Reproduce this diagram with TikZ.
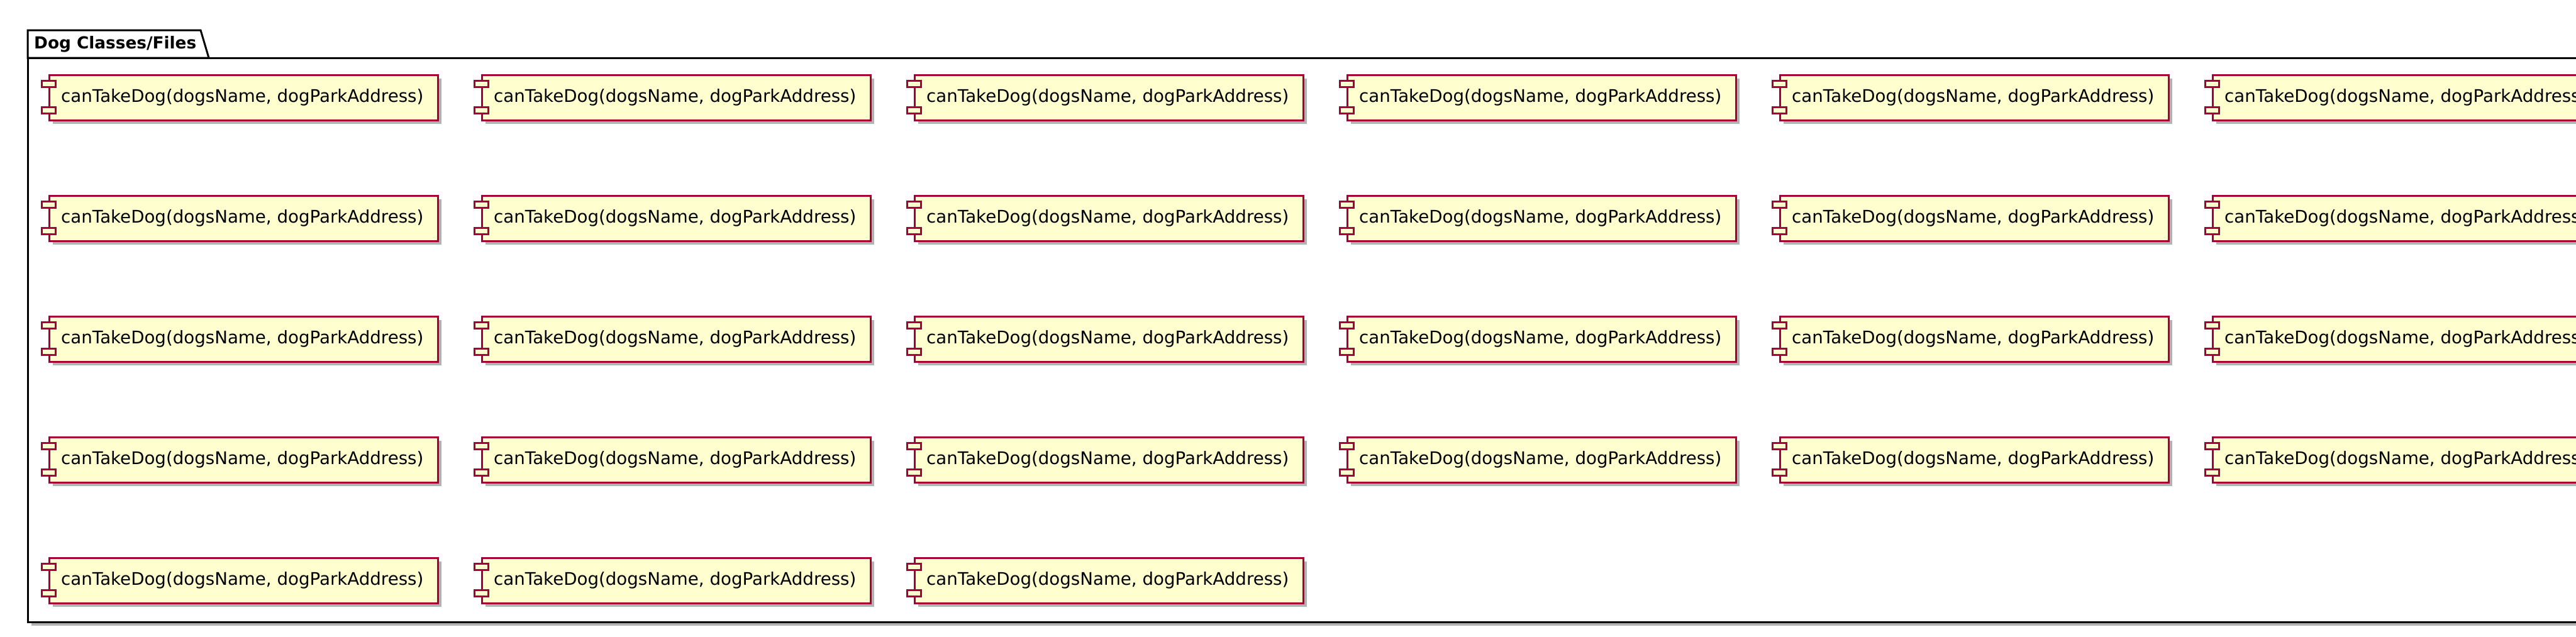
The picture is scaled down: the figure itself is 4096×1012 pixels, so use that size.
\documentclass[tikz,border=0pt]{standalone}
\usepackage{fontspec}
\setmainfont{DejaVu Sans}
\definecolor{umlred}{HTML}{A80036}
\definecolor{umlfill}{HTML}{FEFECE}
\tikzset{
  comp/.style={draw=umlred, fill=umlfill, line width=3pt, minimum width=618pt, minimum height=72pt, inner sep=0pt, anchor=north west},
  port/.style={draw=umlred, fill=umlfill, line width=3pt},
  shad/.style={fill=black!30},
  pkg/.style={draw=black, line width=3pt}
}
\newcommand{\comptext}{\resizebox{576pt}{!}{canTakeDog(dogsName, dogParkAddress)}}
\begin{document}
\begin{tikzpicture}[x=1pt,y=-1pt]
\useasboundingbox (0,0) rectangle (4096,1012);
\clip (0,0) rectangle (4096,1012);
\fill[white] (0,0) rectangle (4096,1012);
% package
\fill[black!30] (50,98) rectangle (4120,995);
\draw[pkg, fill=white] (44,92) -- (44,989) -- (4120,989) -- (4120,92) -- cycle;
\draw[pkg, fill=white] (44,92) -- (44,48) -- (319,48) -- (332,92) -- cycle;
\node[anchor=west, inner sep=0pt] (title) at (54,70) {\resizebox{258pt}{!}{\bfseries Dog Classes/Files}};
% components
\foreach \r/\n in {0/6,1/6,2/6,3/6,4/3}{
  \foreach \c in {1,...,\n}{
    \pgfmathsetmacro{\xx}{77+(\c-1)*688}
    \pgfmathsetmacro{\yy}{118+\r*192}
    \fill[shad] (\xx+7,\yy+7) rectangle ++(618,72);
    \node[comp] (c\r-\c) at (\xx,\yy) {};
    \node[anchor=west, inner sep=0pt] (t\r-\c) at (\xx+20,\yy+37) {\comptext};
    \draw[port] (\xx-11,\yy+10) rectangle ++(22,10);
    \draw[port] (\xx-11,\yy+52) rectangle ++(22,10);
  }
}
\end{tikzpicture}
\end{document}
